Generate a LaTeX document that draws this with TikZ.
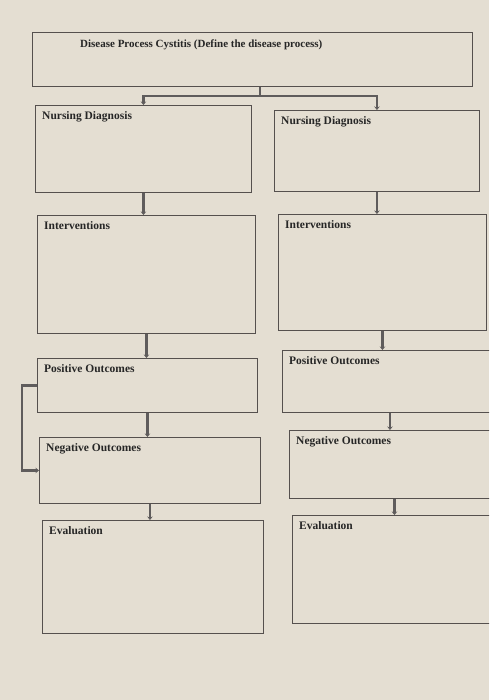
\documentclass[tikz,border=0pt]{standalone}
\usepackage{fontspec}
\setmainfont{Liberation Serif}
\usetikzlibrary{calc}
\usetikzlibrary{arrows.meta}
\definecolor{paper}{RGB}{228,222,210}
\definecolor{boxline}{RGB}{85,80,78}
\definecolor{linkgray}{RGB}{95,92,92}
\tikzset{
  planbox/.style={draw=boxline, line width=0.9pt, inner sep=0pt, anchor=north west},
  boxtext/.style={anchor=north west, inner sep=0pt, text=black!85, font=\bfseries\fontsize{11.5}{13}\selectfont},
  link/.style={draw=linkgray, line width=2.2pt, line join=miter, -{Stealth[length=3.5pt,width=5.5pt]}}
}
\newcommand{\planbox}[6]{\node[planbox, minimum width=#4, minimum height=#5] (#1) at ( #2 , #3 ) {};
  \node[boxtext] (#1-t) at ($(#1.north west)+(7,6)$) {#6};}

\begin{document}
\begin{tikzpicture}[x=1pt,y=-1pt]
\useasboundingbox (0,0) rectangle (489,700);
\clip (0,0) rectangle (489,700);
\fill[paper] (0,0) rectangle (489,700);
% heading box
\node[planbox, minimum width=440, minimum height=54] (top) at (32,32) {};
\node[boxtext, font=\bfseries\fontsize{11}{13}\selectfont] (top-t) at ($(top.north west)+(48,8)$) {Disease Process Cystitis (Define the disease process)};
% left column
\planbox{nda}{35}{105}{216}{87}{Nursing Diagnosis}
\planbox{inta}{37}{215}{218}{118}{Interventions}
\planbox{posa}{37}{358}{220}{54}{Positive Outcomes}
\planbox{nega}{39}{437}{221}{66}{Negative Outcomes}
\planbox{eva}{42}{520}{221}{113}{Evaluation}
% right column
\planbox{ndb}{274}{110}{205}{81}{Nursing Diagnosis}
\planbox{intb}{278}{214}{208}{116}{Interventions}
\planbox{posb}{282}{350}{215}{62}{Positive Outcomes}
\planbox{negb}{289}{430}{210}{68}{Negative Outcomes}
\planbox{evb}{292}{515}{210}{108}{Evaluation}
% split below heading
\coordinate (split) at (260,96);
\draw[linkgray, line width=2.2pt] (top.south -| split) -- (split);
\draw[link] (split) -| (nda.north);
\draw[link] (split) -| (ndb.north);
% links down each column
\foreach \a/\b in {nda/inta, inta/posa, posa/nega, nega/eva, ndb/intb, intb/posb, posb/negb, negb/evb}
  \draw[link] (\a.south) -- (\a.south |- \b.north);
% loop on the left
\draw[link] (posa.west) -- ++(-15,0) |- (nega.west);
\end{tikzpicture}
\end{document}
